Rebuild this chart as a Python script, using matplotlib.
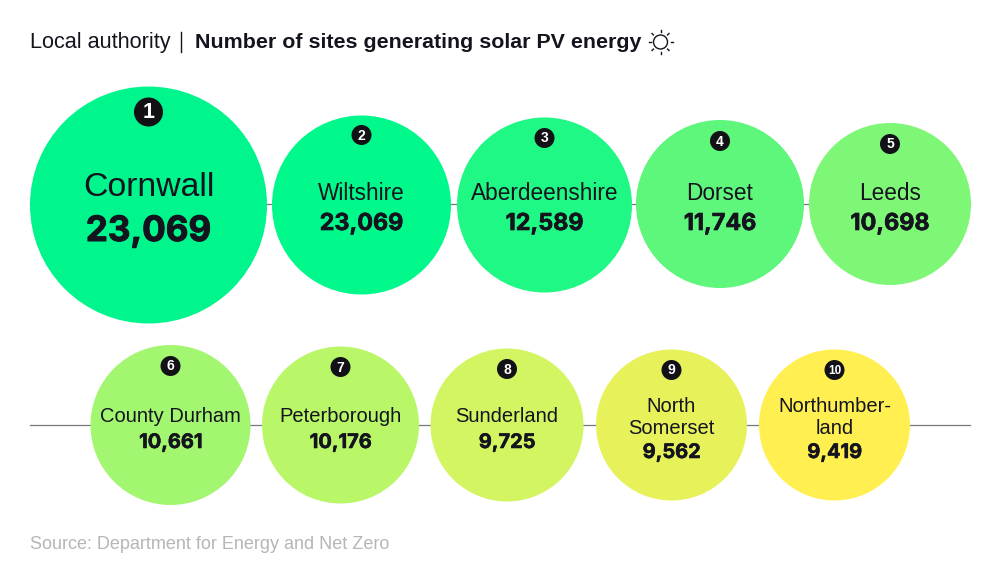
import matplotlib
matplotlib.use('Agg')
from matplotlib import pyplot as plt
from matplotlib.patches import Circle
from matplotlib import patheffects as pe
import numpy as np

plt.rcParams['font.family'] = ['Liberation Sans', 'DejaVu Sans']

"Data read from the picture"
ranks = [1, 2, 3, 4, 5, 6, 7, 8, 9, 10]
names = ['Cornwall', 'Wiltshire', 'Aberdeenshire', 'Dorset', 'Leeds',
         'County Durham', 'Peterborough', 'Sunderland', 'North\nSomerset', 'Northumber-\nland']
sites = [23069, 23069, 12589, 11746, 10698, 10661, 10176, 9725, 9562, 9419]

"Layout, in pixels"
xs = [148.5, 361.5, 544.5, 720, 890, 170.5, 340.5, 507, 671.5, 834.5]
ys = [205, 205, 205, 204, 204, 425, 425, 425, 425, 425]
radii = [118.5, 89.5, 87.5, 84, 81, 80, 78.5, 76.5, 75.5, 75.5]
badge_ys = [112, 135, 138, 141, 144, 366, 367, 369, 370, 370]
colors = ['#00F58C', '#00F98A', '#1FF884', '#5FF67C', '#7FF776',
          '#A3F66F', '#B9F668', '#D2F561', '#E7F25B', '#FFEF50']
ink = '#14141E'
value_font = ['Inter', 'Liberation Sans']

fig = plt.figure(figsize=(10, 5.8), dpi=100)
ax = fig.add_axes([0, 0, 1, 1])
ax.set_xlim(0, 1000)
ax.set_ylim(580, 0)
ax.axis('off')

for y in [204, 425]:
    ax.plot([30, 970], [y, y], color='#77777F', lw=0.9, zorder=1)


def centred(x, y, s, size, bold=False):
    t = ax.text(x, y, s, fontsize=size, color=ink, ha='center', va='baseline', zorder=4,
                fontweight='bold' if bold else 'normal',
                family=value_font if bold else ['Liberation Sans'])
    if bold:
        # the reference figures are a little heavier than Inter bold
        t.set_path_effects([pe.withStroke(linewidth=size * 0.028, foreground=ink)])


for j in range(len(names)):
    x, y, r = xs[j], ys[j], radii[j]
    ax.add_patch(Circle((x, y), r, fc=colors[j], ec='none', zorder=2))

    big = j == 0
    ax.add_patch(Circle((x, badge_ys[j]), 14.5 if big else 10, fc='#111116', ec='none', zorder=3))
    ax.text(x, badge_ys[j] + 0.5, str(ranks[j]), color='white', fontweight='bold',
            fontsize=15.5 if big else (8.5 if ranks[j] == 10 else 10),
            ha='center', va='center', zorder=4)

    label = f'{sites[j]:,}'
    if big:
        centred(x, 196, names[j], 24.3)
        centred(x, 241, label, 25.2, True)
    elif j < 5:
        centred(x, 200.5, names[j], 16.3)
        centred(x, 230, label, 16.8, True)
    elif '\n' in names[j]:
        first, second = names[j].split('\n')
        centred(x, 412, first, 14.5)
        centred(x, 434, second, 14.5)
        centred(x, 458, label, 14.4, True)
    else:
        centred(x, 422.5, names[j], 14.5)
        centred(x, 448, label, 14.4, True)

"Title, two weights on one line"
ax.text(30, 48, 'Local authority', fontsize=15.6, color=ink, ha='left', va='baseline')
ax.plot([181, 181], [32, 52], color=ink, lw=1)
ax.text(195, 48, 'Number of sites generating solar PV energy', fontsize=15.4,
        fontweight='bold', color=ink, ha='left', va='baseline')

"Sun icon"
sun_x, sun_y = 660.5, 42
ax.add_patch(Circle((sun_x, sun_y), 7, fc='none', ec=ink, lw=1))
for a in np.deg2rad(np.arange(0, 360, 45)):
    ax.plot([sun_x + 10 * np.cos(a), sun_x + 12 * np.cos(a)],
            [sun_y + 10 * np.sin(a), sun_y + 12 * np.sin(a)], color=ink, lw=1)

ax.text(30, 549, 'Source: Department for Energy and Net Zero', fontsize=12.95,
        color='#B6B6BA', ha='left', va='baseline')

fig.savefig('out.png', dpi=100, facecolor='white')
